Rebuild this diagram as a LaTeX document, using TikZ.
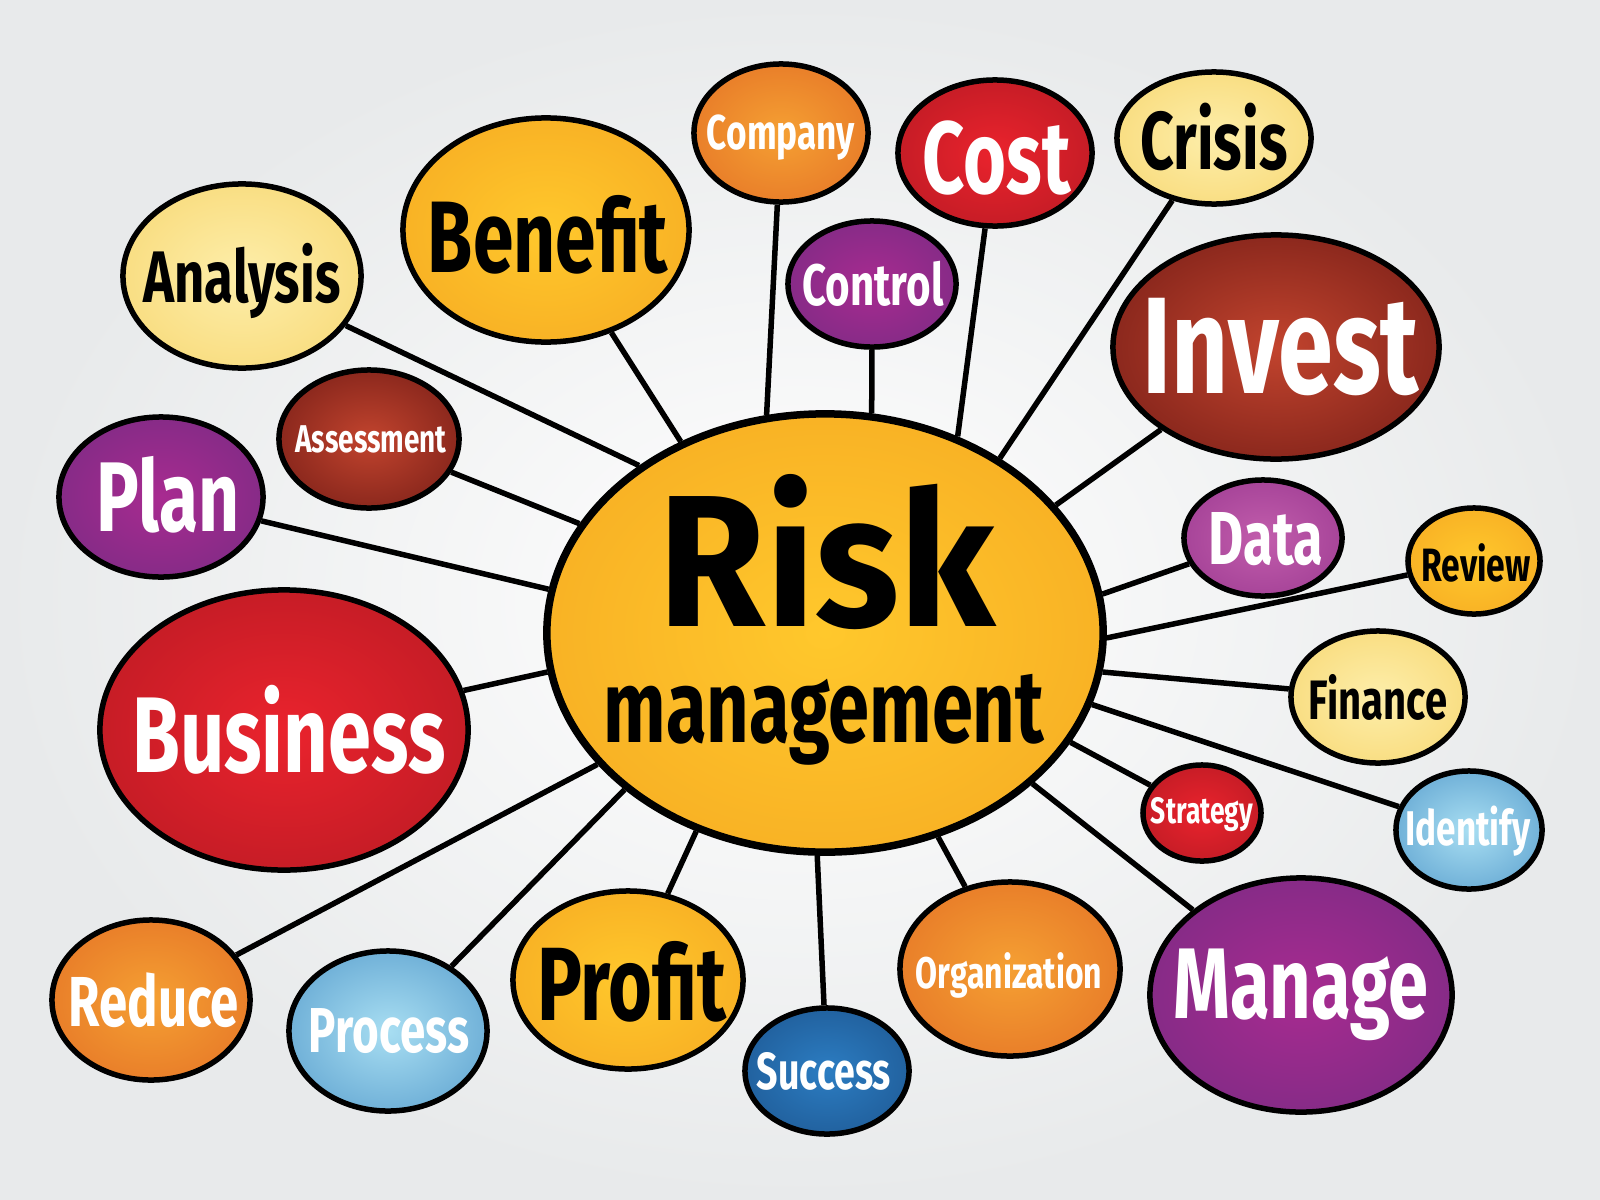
\documentclass[tikz,border=0pt]{standalone}
\usepackage{fontspec}
\usepackage{graphicx}
\usetikzlibrary{shapes.geometric}
\newfontfamily\hand[FakeStretch=0.72]{Fira Sans}
\makeatletter
\pgfdeclareradialshading[tikz@radial@inner,tikz@radial@outer]{glow}{\pgfpointorigin}{color(0bp)=(tikz@radial@inner); color(50bp)=(tikz@radial@outer)}
\makeatother
\definecolor{bgout}{RGB}{232,234,235}
\definecolor{yelI}{HTML}{FDEEAA}\definecolor{yelO}{HTML}{F5CE5C}
\definecolor{goldI}{HTML}{FFC82C}\definecolor{goldO}{HTML}{F29D1E}
\definecolor{orI}{HTML}{F5A033}\definecolor{orO}{HTML}{DD5E20}
\definecolor{redI}{HTML}{EA232D}\definecolor{redO}{HTML}{A3161F}
\definecolor{puI}{HTML}{A82B90}\definecolor{puO}{HTML}{652A7E}
\definecolor{maI}{HTML}{C25DAC}\definecolor{maO}{HTML}{8C2C86}
\definecolor{mrI}{HTML}{C2442E}\definecolor{mrO}{HTML}{550C0C}
\definecolor{lbI}{HTML}{A8DEF2}\definecolor{lbO}{HTML}{3984BE}
\definecolor{dbI}{HTML}{2C7DC2}\definecolor{dbO}{HTML}{17467C}
\tikzset{
  bubble/.style={ellipse, draw=black, line width=0.055cm, inner sep=0pt},
  yel/.style={inner color=yelI, outer color=yelO, shading=glow},
  gold/.style={inner color=goldI, outer color=goldO, shading=glow},
  orng/.style={inner color=orI, outer color=orO, shading=glow},
  rd/.style={inner color=redI, outer color=redO, shading=glow},
  purp/.style={inner color=puI, outer color=puO, shading=glow},
  magn/.style={inner color=maI, outer color=maO, shading=glow},
  marn/.style={inner color=mrI, outer color=mrO, shading=glow},
  lblu/.style={inner color=lbI, outer color=lbO, shading=glow},
  dblu/.style={inner color=dbI, outer color=dbO, shading=glow},
  conn/.style={draw=black, line width=0.055cm},
  tw/.style={text=white, inner sep=0pt, font=\hand\bfseries},
  tk/.style={text=black, inner sep=0pt, font=\hand\bfseries},
}
\newcommand\fitw[2]{\resizebox{#1}{!}{#2}}
\begin{document}
\begin{tikzpicture}[x=0.01cm, y=-0.01cm]
\useasboundingbox (0,0) rectangle (1600,1200);
\fill[inner color=white, outer color=bgout] (0,0) rectangle (1600,1200);

% central node
\node[bubble, gold, line width=0.075cm, minimum width=5.56cm, minimum height=4.38cm] (risk) at (825,633) {};

% satellites
\node[bubble, yel,  minimum width=2.38cm, minimum height=1.84cm] (analysis) at (242,276) {};
\node[bubble, gold, minimum width=2.86cm, minimum height=2.24cm] (benefit) at (546,230) {};
\node[bubble, orng, minimum width=1.74cm, minimum height=1.38cm] (company) at (781,133) {};
\node[bubble, rd,   minimum width=1.94cm, minimum height=1.46cm] (cost) at (995,153) {};
\node[bubble, yel,  minimum width=1.94cm, minimum height=1.32cm] (crisis) at (1214,138) {};
\node[bubble, purp, minimum width=1.68cm, minimum height=1.26cm] (control) at (872,284) {};
\node[bubble, marn, minimum width=3.26cm, minimum height=2.24cm] (invest) at (1276,347) {};
\node[bubble, marn, minimum width=1.80cm, minimum height=1.38cm] (assessment) at (369,439) {};
\node[bubble, purp, minimum width=2.04cm, minimum height=1.60cm] (plan) at (161,497) {};
\node[bubble, rd,   minimum width=3.68cm, minimum height=2.80cm] (business) at (284,730) {};
\node[bubble, magn, minimum width=1.58cm, minimum height=1.16cm] (data) at (1263,538) {};
\node[bubble, gold, minimum width=1.32cm, minimum height=1.06cm] (review) at (1474,561) {};
\node[bubble, yel,  minimum width=1.74cm, minimum height=1.32cm] (finance) at (1378,697) {};
\node[bubble, rd,   minimum width=1.18cm, minimum height=0.96cm] (strategy) at (1202,813) {};
\node[bubble, lblu, minimum width=1.46cm, minimum height=1.18cm] (identify) at (1469,830) {};
\node[bubble, purp, minimum width=3.02cm, minimum height=2.34cm] (manage) at (1301,995) {};
\node[bubble, orng, minimum width=2.20cm, minimum height=1.74cm] (organization) at (1010,969) {};
\node[bubble, dblu, minimum width=1.64cm, minimum height=1.26cm] (success) at (827,1071) {};
\node[bubble, gold, minimum width=2.30cm, minimum height=1.78cm] (profit) at (628,980) {};
\node[bubble, lblu, minimum width=1.98cm, minimum height=1.60cm] (process) at (388,1031) {};
\node[bubble, orng, minimum width=1.98cm, minimum height=1.60cm] (reduce) at (151,1000) {};

% connectors
\draw[conn] (analysis) -- (risk.138.7);
\draw[conn] (benefit) -- (risk.127.8);
\draw[conn] (company) -- (risk.105.1);
\draw[conn] (control) -- (risk.78.7);
\draw[conn] (cost) -- (risk.56.8);
\draw[conn] (crisis) -- (risk.45.5);
\draw[conn] (invest) -- (risk.29.3);
\draw[conn] (assessment) -- (risk.156.6);
\draw[conn] (plan) -- (risk.171.5);
\draw[conn] (data) -- (risk.8.8);
\draw[conn] (review) -- (risk.-1.7);
\draw[conn] (business) -- (risk.188);
\draw[conn] (finance) -- (risk.-8);
\draw[conn] (identify) -- (risk.-15);
\draw[conn] (strategy) -- (risk.-24.9);
\draw[conn] (manage) -- (risk.-36.6);
\draw[conn] (organization) -- (risk.-61.2);
\draw[conn] (success) -- (risk.-92.1);
\draw[conn] (profit) -- (risk.-123.6);
\draw[conn] (process) -- (risk.-142.6);
\draw[conn] (reduce) -- (risk.-150.7);

% texts
\node[tk] (risk-t1) at (827,552) {\resizebox{3.36cm}{1.52cm}{Risk}};
\node[tk] (risk-t2) at (824,720) {\fitw{4.40cm}{management}};
\node[tk] (analysis-t) at (242,281) {\fitw{1.97cm}{Analysis}};
\node[tk] (benefit-t) at (548,235) {\fitw{2.40cm}{Benefit}};
\node[tw] (company-t) at (781,138) {\fitw{1.48cm}{Company}};
\node[tw] (cost-t) at (997,158) {\fitw{1.48cm}{Cost}};
\node[tk] (crisis-t) at (1214,137) {\fitw{1.47cm}{Crisis}};
\node[tw] (control-t) at (873,284) {\fitw{1.41cm}{Control}};
\node[tw] (invest-t) at (1281,347) {\fitw{2.76cm}{Invest}};
\node[tw] (assessment-t) at (371,439) {\fitw{1.51cm}{Assessment}};
\node[tw] (plan-t) at (168,495) {\fitw{1.43cm}{Plan}};
\node[tw] (business-t) at (289,730) {\fitw{3.13cm}{Business}};
\node[tw] (data-t) at (1266,539) {\fitw{1.14cm}{Data}};
\node[tk] (review-t) at (1476,563) {\fitw{1.09cm}{Review}};
\node[tk] (finance-t) at (1378,697) {\fitw{1.38cm}{Finance}};
\node[tw] (strategy-t) at (1202,815) {\fitw{1.02cm}{Strategy}};
\node[tw] (identify-t) at (1468,831) {\fitw{1.25cm}{Identify}};
\node[tw] (manage-t) at (1301,995) {\fitw{2.55cm}{Manage}};
\node[tw] (organization-t) at (1009,975) {\fitw{1.86cm}{Organization}};
\node[tw] (success-t) at (824,1071) {\fitw{1.34cm}{Success}};
\node[tk] (profit-t) at (632,982) {\fitw{1.89cm}{Profit}};
\node[tw] (process-t) at (389,1031) {\fitw{1.60cm}{Process}};
\node[tw] (reduce-t) at (154,1000) {\fitw{1.70cm}{Reduce}};
\end{tikzpicture}
\end{document}
